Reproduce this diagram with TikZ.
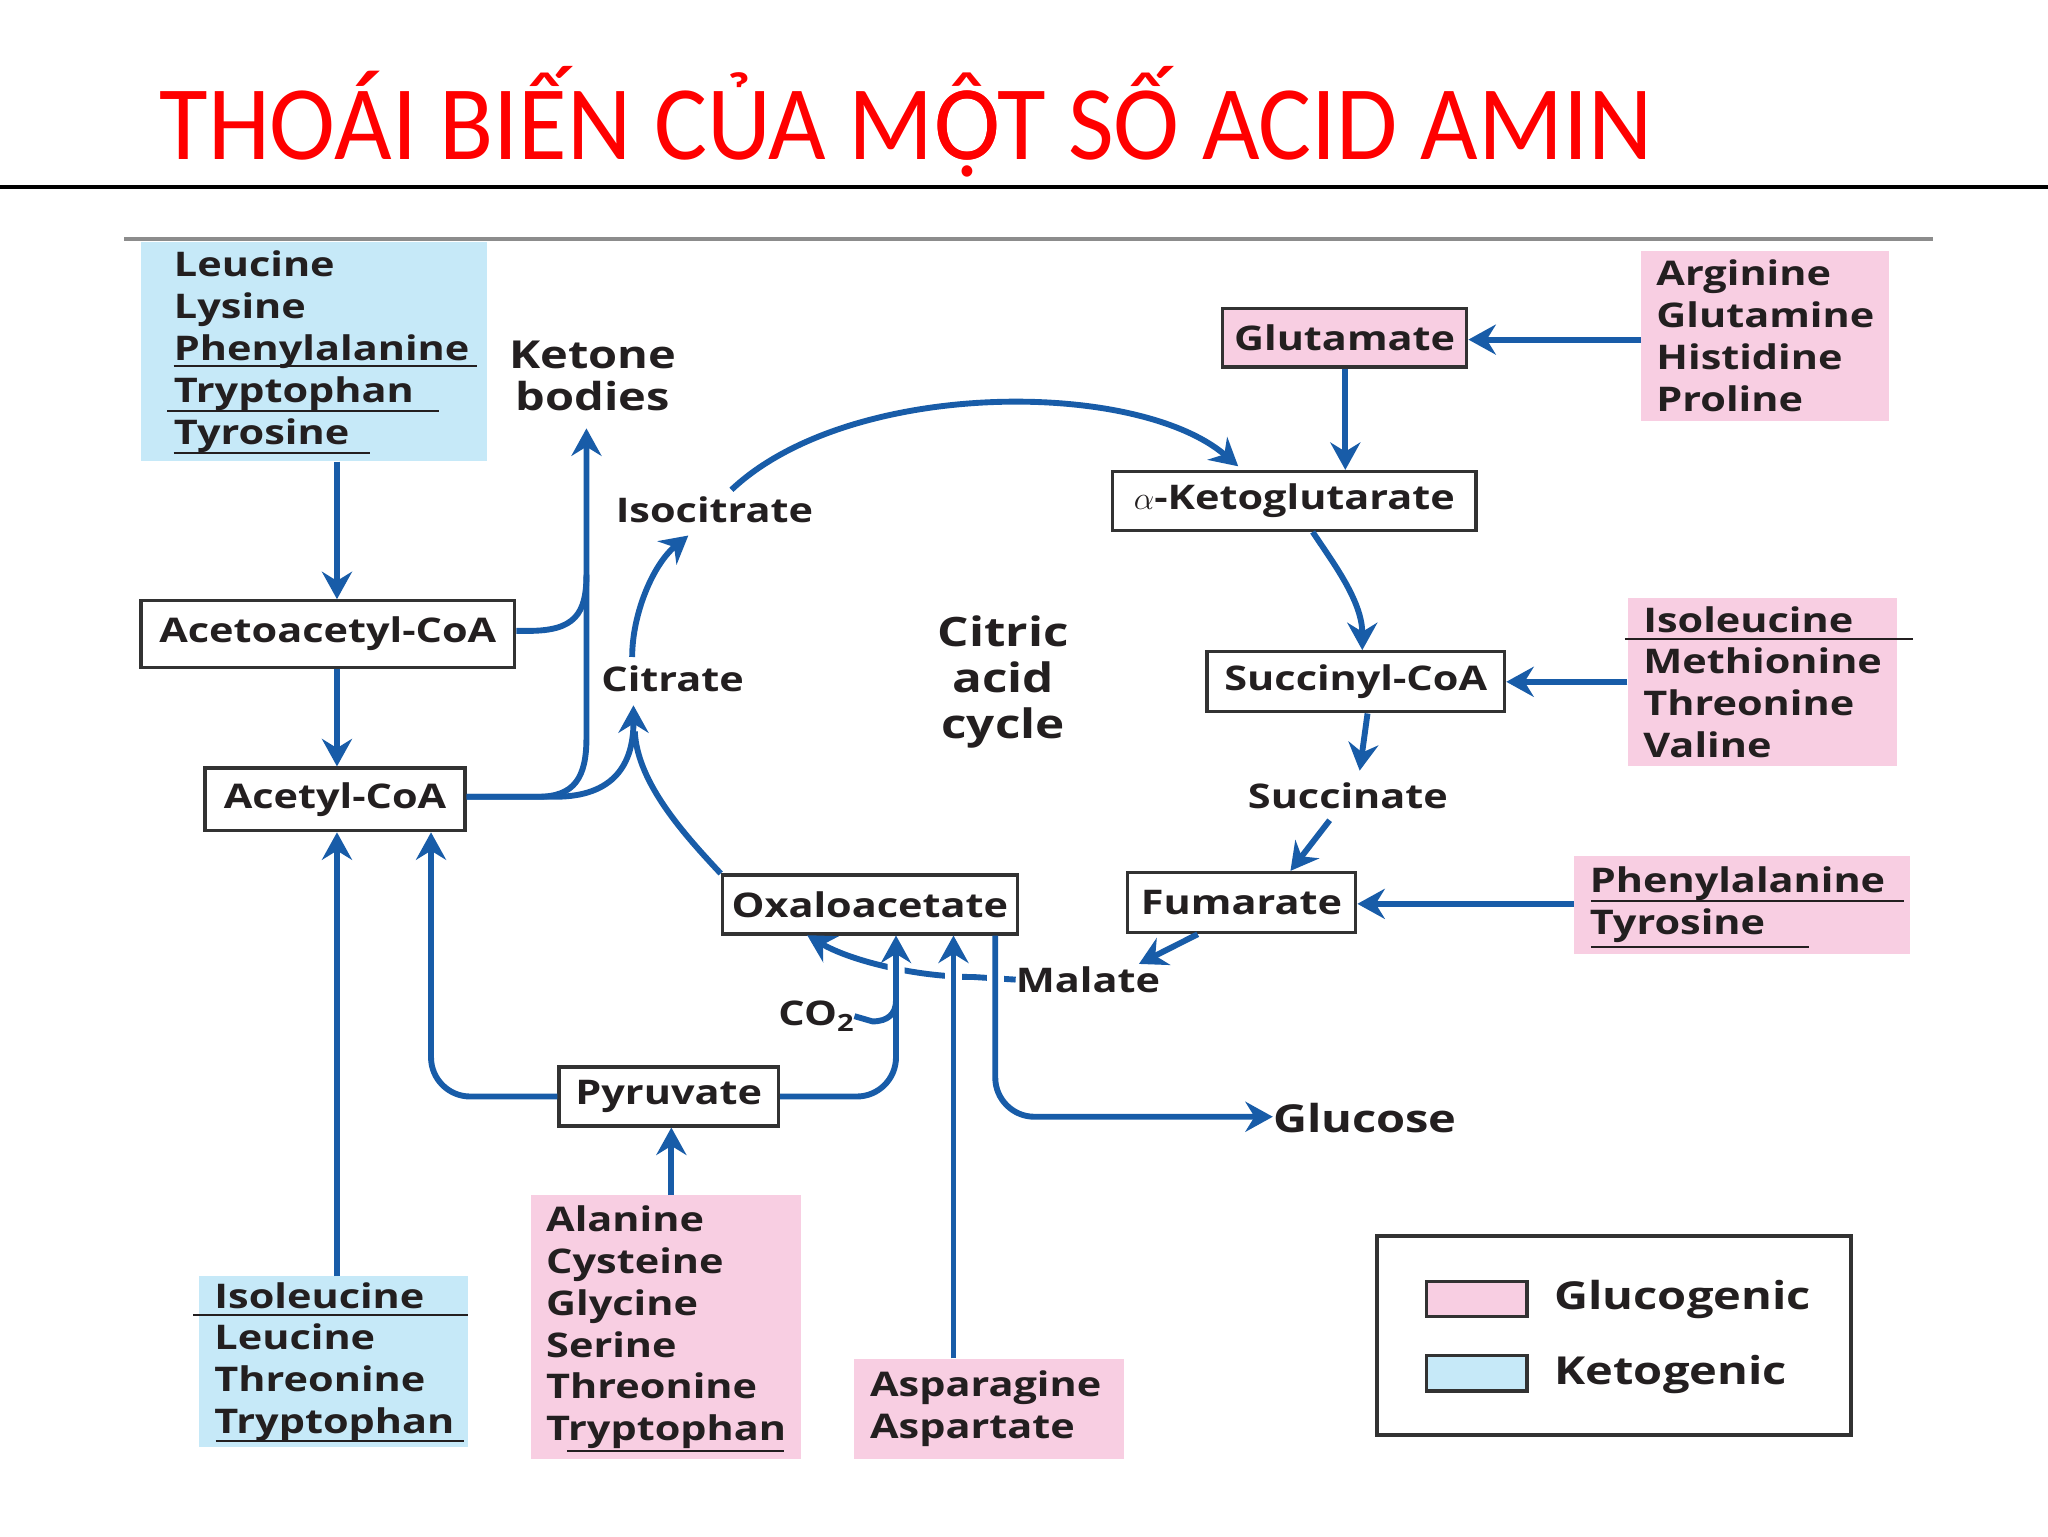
\documentclass[tikz,border=0pt]{standalone}
\usepackage{fontspec}
\usetikzlibrary{arrows.meta,calc}
\newfontfamily\dfont{Open Sans}[FakeStretch=1.22]
\newfontfamily\tfont{Carlito}[FakeStretch=0.94]
\newcommand{\OhatDot}{\rlap{\char"00D4}\char"1ECC}
\definecolor{arrblue}{RGB}{24,92,168}
\definecolor{pinkfill}{RGB}{248,206,226}
\definecolor{bluefill}{RGB}{198,233,248}
\definecolor{boxline}{RGB}{50,50,50}
\definecolor{txt}{RGB}{35,31,32}
\definecolor{rulegray}{RGB}{140,140,140}
\begin{document}
\begin{tikzpicture}[x=1pt,y=-1pt,
  line/.style={draw=arrblue, line width=4.5pt},
  arr/.style={line, -{Stealth[length=21pt,width=23pt,inset=7pt]}},
  gap/.style={draw=white, line width=13pt},
  bx/.style={draw=boxline, line width=2.5pt, fill=white, inner sep=0pt, text=txt,
    font=\dfont\bfseries\fontsize{26}{30}\selectfont},
  lst/.style={anchor=north west, inner xsep=12pt, inner ysep=0pt, align=left, text=txt,
    font=\dfont\bfseries\fontsize{26}{32}\selectfont},
  lbl/.style={inner sep=0pt, text=txt, font=\dfont\bfseries\fontsize{26}{30}\selectfont},
  big/.style={inner sep=0pt, text=txt, font=\dfont\bfseries\fontsize{29.5}{32}\selectfont},
  uline/.style={draw=txt, line width=1.6pt}
]
\useasboundingbox (0,0) rectangle (1568,1176);
\fill[white] (0,0) rectangle (1568,1176);

% title and rules
\node[anchor=base west, inner sep=0pt, text=red, font=\tfont\fontsize{81}{90}\selectfont] (title) at (122,122) {THOÁI BIẾN CỦA M\OhatDot T SỐ ACID AMIN};
\draw[black, line width=3pt] (0,143) -- (1568,143);
\draw[rulegray, line width=2.5pt] (95,183) -- (1480,183);

% amino acid boxes
\node[lst, fill=bluefill, minimum width=265pt, minimum height=168pt, text width=241pt] (ketoA) at (108,185) {\leftskip=13pt Leucine\\Lysine\\Phenylalanine\\Tryptophan\\Tyrosine\par};
\node[lst, fill=pinkfill, minimum width=190pt, minimum height=130pt, text width=166pt] (glutsrc) at (1256,192) {Arginine\\Glutamine\\Histidine\\Proline};
\node[lst, fill=pinkfill, minimum width=206pt, minimum height=128pt, text width=182pt] (succsrc) at (1246,458) {Isoleucine\\Methionine\\Threonine\\Valine};
\node[lst, fill=pinkfill, minimum width=257pt, minimum height=75pt, text width=233pt] (fumsrc) at (1205,655) {Phenylalanine\\Tyrosine};
\node[lst, fill=pinkfill, minimum width=207pt, minimum height=202pt, text width=183pt] (pyrsrc) at (406,915) {Alanine\\Cysteine\\Glycine\\Serine\\Threonine\\Tryptophan};
\node[lst, fill=bluefill, minimum width=206pt, minimum height=131pt, text width=182pt] (ketoB) at (152,977) {Isoleucine\\Leucine\\Threonine\\Tryptophan};
\node[lst, fill=pinkfill, minimum width=206pt, minimum height=77pt, text width=182pt] (aspsrc) at (654,1040) {Asparagine\\Aspartate};

% underlines
\draw[uline] (133,280) -- (365,280);
\draw[uline] (128,315) -- (336,315);
\draw[uline] (133,347) -- (283,347);
\draw[uline] (1244,489) -- (1465,489);
\draw[uline] (1218,690) -- (1458,690);
\draw[uline] (1218,725) -- (1385,725);
\draw[uline] (148,1007) -- (358,1007);
\draw[uline] (165,1103) -- (355,1103);
\draw[uline] (434,1111) -- (600,1111);

% metabolite boxes
\node[bx, minimum width=286pt, minimum height=51pt] (aacoa) at (251,485.5) {Acetoacetyl-CoA};
\node[bx, minimum width=199pt, minimum height=48pt] (acoa) at (256.5,612) {Acetyl-CoA};
\node[bx, fill=pinkfill, minimum width=187pt, minimum height=45pt] (glut) at (1029.5,258.5) {Glutamate};
\node[bx, minimum width=278pt, minimum height=45pt] (akg) at (991,383.5) {$\alpha$-Ketoglutarate};
\node[bx, minimum width=228pt, minimum height=46pt] (succoa) at (1038,522) {Succinyl-CoA};
\node[bx, minimum width=175pt, minimum height=46pt] (fum) at (950.5,691) {Fumarate};
\node[bx, minimum width=226pt, minimum height=45pt] (oaa) at (666,692.5) {Oxaloacetate};
\node[bx, minimum width=168pt, minimum height=45pt] (pyr) at (512,839.5) {Pyruvate};

% labels
\node[big, align=center] (ketone) at (454,288) {Ketone\\bodies};
\node[lbl] (isocit) at (547,390) {Isocitrate};
\node[lbl] (cit) at (515,520) {Citrate};
\node[big, align=center, font=\dfont\bfseries\fontsize{31}{35}\selectfont] (cycle) at (768,522) {Citric\\acid\\cycle};
\node[lbl] (succ) at (1032,609) {Succinate};
\node[lbl] (mal) at (833,750) {Malate};
\node[lbl] (co2) at (625,778) {CO\textsubscript{2}};
\node[big] (gluc) at (1045,856) {Glucose};

% legend
\node[draw=boxline, line width=3pt, minimum width=363pt, minimum height=152pt, anchor=north west] (leg) at (1053,945) {};
\node[draw=boxline, line width=2.5pt, fill=pinkfill, minimum width=77pt, minimum height=27pt] (legp) at (1130.5,994.5) {};
\node[draw=boxline, line width=2.5pt, fill=bluefill, minimum width=77pt, minimum height=27pt] (legb) at (1130.5,1051.5) {};
\node[big, anchor=west] (legpt) at (1190,995) {Glucogenic};
\node[big, anchor=west] (legbt) at (1190,1052) {Ketogenic};

% ketogenic side
\draw[arr] (ketoA.south -| 258,0) -- (258,0 |- aacoa.north);
\draw[arr] (aacoa.south -| 258,0) -- (258,0 |- acoa.north);
\draw[line] (aacoa.east |- 0,483) -- (405,483) .. controls (440,483) and (449,470) .. (449,440);
\draw[arr] (acoa.east |- 0,610) -- (412,610) .. controls (440,610) and (449,595) .. (449,565) -- (449,328);
\draw[arr] (acoa.east |- 0,610) -- (425,610) .. controls (470,610) and (485,585) .. (485,540);
\draw[line] (oaa.north west) .. controls (525,640) and (488,600) .. (486,560);
\draw[arr] (484,503) .. controls (484,470) and (500,432) .. (527,410);
\draw[arr] (560,375) .. controls (650,290) and (870,290) .. (948,357);

% right side
\draw[arr] (glutsrc.west |- 0,260) -- (glut.east |- 0,260);
\draw[arr] (glut.south -| 1030,0) -- (1030,0 |- akg.north);
\draw[arr] (akg.south -| 1005,0) .. controls (1020,430) and (1043,460) .. (1043,0 |- succoa.north);
\draw[arr] (succsrc.west |- 0,522) -- (succoa.east);
\draw[arr] (succoa.south -| 1047,0) -- (1041,590);
\draw[arr] (1018,628) -- (988,0 |- fum.north);
\draw[arr] (fumsrc.west |- 0,692) -- (fum.east |- 0,692);
\draw[arr] (fum.south -| 917,0) -- (872,738);

% bottom
\draw[arr] (mal.west) -- (745,748) .. controls (700,748) and (650,735) .. (618,716);
\draw[gap, shorten >=8pt] (pyr.east) -- (655,840) .. controls (680,840) and (686,830) .. (686,805) -- (686,0 |- oaa.south);
\draw[gap, shorten >=8pt] (aspsrc.north -| 730,0) -- (730,0 |- oaa.south);
\draw[gap, shorten <=8pt] (oaa.south -| 762,0) -- (762,825);
\draw[arr, rounded corners=30pt] (pyr.east) -| (oaa.south -| 686,0);
\draw[line] (co2.east) -- (668,782) .. controls (680,782) and (686,776) .. (686,766);
\draw[arr, rounded corners=30pt] (pyr.west) -| (acoa.south -| 330,0);
\draw[arr] (ketoB.north -| 258,0) -- (258,0 |- acoa.south);
\draw[arr] (pyrsrc.north -| 514,0) -- (514,0 |- pyr.south);
\draw[arr] (aspsrc.north -| 730,0) -- (730,0 |- oaa.south);
\draw[arr, rounded corners=30pt] (oaa.south -| 762,0) |- (gluc.west |- 0,855);
\end{tikzpicture}
\end{document}
